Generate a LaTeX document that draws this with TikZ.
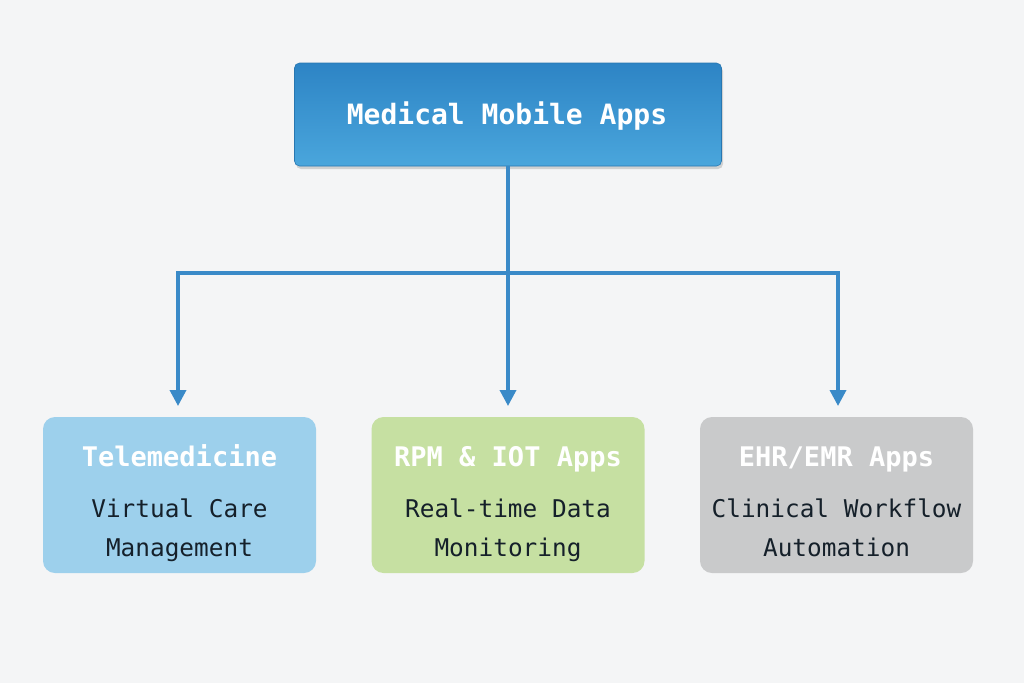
\documentclass[tikz,border=0pt]{standalone}
\usepackage{fontspec}
\setmonofont{DejaVu Sans Mono}
\usetikzlibrary{arrows.meta,shadows,calc}
\definecolor{bgc}{HTML}{F4F5F6}
\definecolor{topA}{HTML}{2D84C5}
\definecolor{topB}{HTML}{4AA6DC}
\definecolor{linec}{HTML}{3A8AC8}
\definecolor{boxblue}{HTML}{9DD0EC}
\definecolor{boxgreen}{HTML}{C6E0A2}
\definecolor{boxgrey}{HTML}{C9CACB}
\definecolor{subtxt}{HTML}{15202A}
\tikzset{
  topbox/.style={rounded corners=5pt, top color=topA, bottom color=topB, draw=topA!90!black, line width=0.6pt,
    drop shadow={shadow xshift=1.5pt, shadow yshift=-3pt, opacity=0.25, fill=black!60},
    minimum width=427pt, minimum height=103pt},
  toptxt/.style={text=white, anchor=base, font=\ttfamily\bfseries\fontsize{28}{32}\selectfont},
  catbox/.style={rounded corners=12pt, minimum width=273pt, minimum height=156pt, draw=none},
  titletxt/.style={text=white, anchor=base, font=\ttfamily\bfseries\fontsize{27}{32}\selectfont},
  subtxtsty/.style={text=subtxt, anchor=base, align=center, font=\ttfamily\fontsize{24.4}{39}\selectfont},
  conn/.style={draw=linec, line width=3.5pt, -{Triangle[length=16pt,width=16pt]}},
  seg/.style={draw=linec, line width=3.5pt, line cap=rect}
}
\begin{document}
\begin{tikzpicture}[x=1pt,y=-1pt]
\fill[bgc] (0,0) rectangle (1024,683);
\useasboundingbox (0,0) rectangle (1024,683);
\node[topbox] (top) at (508,114.5) {};
\node[toptxt] (toplabel) at (507,124.5) {Medical Mobile Apps};
\coordinate (hub) at (508,273);
\coordinate (lc) at (178,273);
\coordinate (rc) at (838,273);
\coordinate (la) at (178,406);
\coordinate (ma) at (508,406);
\coordinate (ra) at (838,406);
\draw[seg] (lc) -- (rc);
\draw[conn] (top.south) -- (ma);
\draw[conn] (lc) -- (la);
\draw[conn] (rc) -- (ra);
\node[catbox, fill=boxblue] (b1) at (179.5,495) {};
\node[catbox, fill=boxgreen] (b2) at (508,495) {};
\node[catbox, fill=boxgrey] (b3) at (836.5,495) {};
\node[titletxt] (t1) at (179.5,466) {Telemedicine};
\node[titletxt] (t2) at (508,466) {RPM \& IOT Apps};
\node[titletxt] (t3) at (836.5,466) {EHR/EMR Apps};
\node[subtxtsty] (s1) at (179.5,556) {Virtual Care\\Management};
\node[subtxtsty] (s2) at (508,556) {Real-time Data\\Monitoring};
\node[subtxtsty] (s3) at (836.5,556) {Clinical Workflow\\Automation};
\end{tikzpicture}
\end{document}
